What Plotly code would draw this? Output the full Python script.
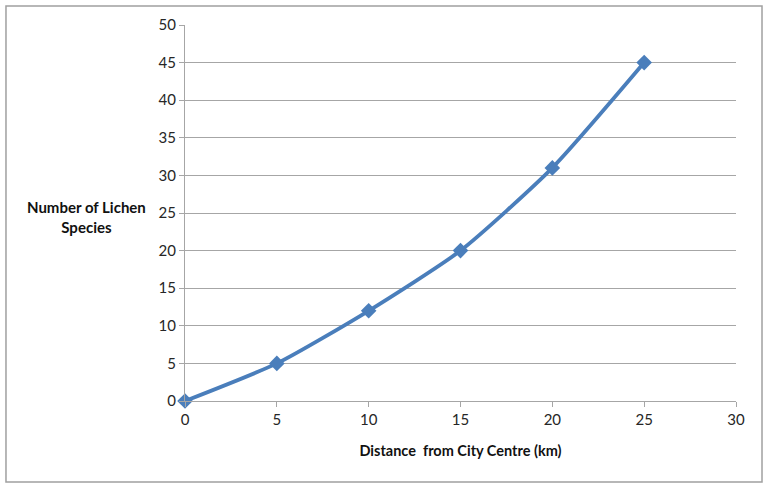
import plotly.graph_objects as go

# distance from city centre (km) and lichen species counts
distance_km = [0, 5, 10, 15, 20, 25]
lichen_species = [0, 5, 12, 20, 31, 45]

x_ticks = [0, 5, 10, 15, 20, 25, 30]
y_ticks = [0, 5, 10, 15, 20, 25, 30, 35, 40, 45, 50]

line_color = '#4a7ebb'
grid_color = '#a6a6a6'
text_color = '#262626'
font_family = 'Lato'

fig = go.Figure()

fig.add_trace(go.Scatter(
    x=distance_km,
    y=lichen_species,
    mode='lines+markers',
    line=dict(color=line_color, width=3.8, shape='spline', smoothing=0.6),
    marker=dict(symbol='diamond', size=12, color=line_color),
    cliponaxis=False,
    showlegend=False,
))

fig.update_layout(
    width=768,
    height=489,
    margin=dict(l=185, r=32, t=25, b=88),
    plot_bgcolor='white',
    paper_bgcolor='white',
    font=dict(family=font_family, color=text_color),
    xaxis=dict(
        range=[0, 30],
        tickvals=x_ticks,
        tickfont=dict(size=15, color=text_color),
        showgrid=False,
        zeroline=False,
        showline=True,
        linecolor=grid_color,
        linewidth=1.3,
        ticks='outside',
        ticklen=5,
        tickcolor=grid_color,
        title=dict(
            text='<b>Distance  from City Centre (km)</b>',
            font=dict(size=14.5, color='#111111'),
            standoff=18,
        ),
    ),
    yaxis=dict(
        range=[0, 50],
        tickvals=y_ticks,
        tickfont=dict(size=15, color=text_color),
        showgrid=True,
        gridcolor=grid_color,
        gridwidth=1.3,
        zeroline=False,
        showline=True,
        linecolor=grid_color,
        linewidth=1.3,
        ticks='outside',
        ticklen=5,
        tickcolor=grid_color,
        ticksuffix='  ',
    ),
    annotations=[dict(
        text='<b>Number of Lichen<br>Species</b>',
        xref='paper', yref='paper',
        x=-0.178, y=0.49,
        xanchor='center', yanchor='middle',
        showarrow=False,
        align='center',
        font=dict(size=15, color='#111111'),
    )],
    shapes=[dict(
        type='rect',
        xref='paper', yref='paper',
        x0=-0.3249, x1=1.0472,
        y0=-0.2154, y1=1.0505,
        line=dict(color='#a0a0a0', width=1.5),
        layer='below',
    )],
)

fig.write_html("out.html", config={'displayModeBar': False},
               post_script="document.body.style.margin='0';")
